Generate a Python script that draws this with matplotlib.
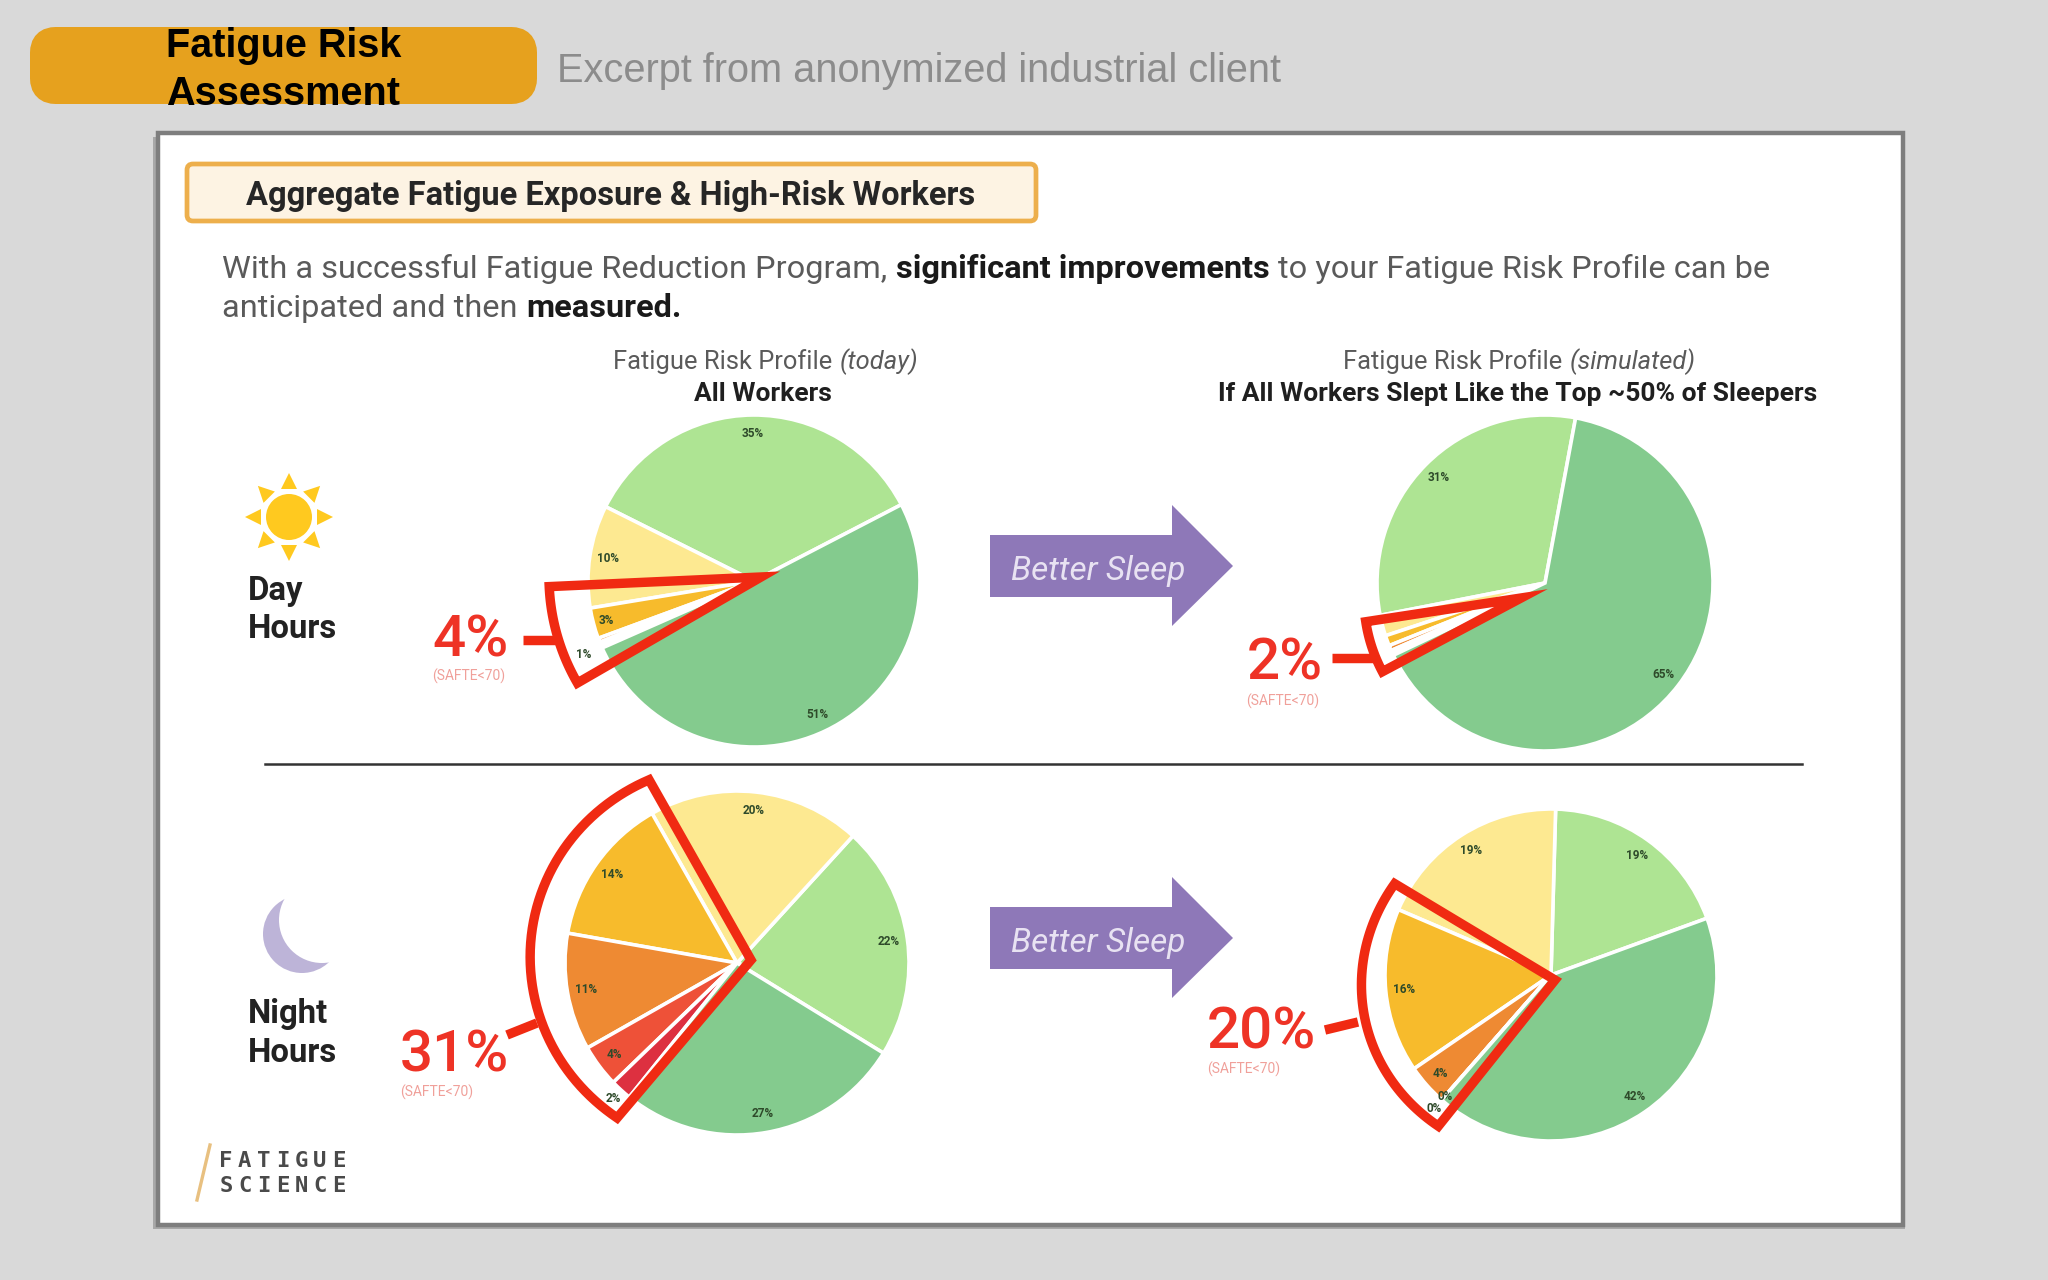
import numpy as np
import matplotlib
matplotlib.use('Agg')
import matplotlib.pyplot as plt
from matplotlib.patches import Rectangle, FancyBboxPatch, Polygon, Circle

plt.rcParams['font.family'] = ['Roboto', 'DejaVu Sans']

W, H = 2048, 1280

# slices run counter clockwise from the start angle
slice_colors = ['#AEE493', '#FDE991', '#F7BB2C', '#EE8A33', '#EE5138', '#DD3040', '#84CB8E']

day_today = [35, 10, 3, 0.4, 0.3, 0.3, 51]
day_today_labels = ['35%', '10%', '3%', '', '', '1%', '51%']
day_sim = [31, 2, 1, 0.5, 0.3, 0.2, 65]
day_sim_labels = ['31%', '', '', '', '', '', '65%']
night_today = [22, 20, 14, 11, 4, 2, 27]
night_today_labels = ['22%', '20%', '14%', '11%', '4%', '2%', '27%']
night_sim = [19, 19, 16, 4, 0, 0, 42]
night_sim_labels = ['19%', '19%', '16%', '4%', '0%', '0%', '42%']

risk_totals = ['4%', '2%', '31%', '20%']
risk_note = '(SAFTE<70)'

fig = plt.figure(figsize=(W / 100, H / 100), dpi=100, facecolor='#D9D9D9')


def page_axes(zorder):
    ax = fig.add_axes([0, 0, 1, 1], zorder=zorder)
    ax.set_xlim(0, W)
    ax.set_ylim(H, 0)
    ax.axis('off')
    return ax


bg = page_axes(0)
fg = page_axes(5)


def draw_pie(values, labels, cx, cy, r, start, far=()):
    pad = 1.25
    ax = fig.add_axes([(cx - r * pad) / W, 1 - (cy + r * pad) / H, 2 * r * pad / W, 2 * r * pad / H], zorder=2)
    wedges, _ = ax.pie(values, colors=slice_colors, startangle=start, counterclock=True, radius=1,
                       wedgeprops={'edgecolor': 'white', 'linewidth': 2.6})
    ax.set_xlim(-pad, pad)
    ax.set_ylim(-pad, pad)
    for i, (w, lab) in enumerate(zip(wedges, labels)):
        if not lab:
            continue
        mid = np.radians((w.theta1 + w.theta2) / 2)
        d = far[i] if i < len(far) and far[i] else 0.89
        fg.text(cx + d * r * np.cos(mid), cy - d * r * np.sin(mid), lab, fontsize=8.5, fontweight='bold',
                color='#2E4A2A', ha='center', va='center')


def highlight(cx, cy, r, a1, a2, bulge, line, total, tx, ty, nx, ny):
    # red outline round the low slices, the arc swells a little in the middle like the drawn one
    angles = np.linspace(a1, a2, 60)
    radii = r + bulge * np.sin(np.pi * (angles - a1) / (a2 - a1))
    xs = cx + radii * np.cos(np.radians(angles))
    ys = cy - radii * np.sin(np.radians(angles))
    pts = [(cx, cy)] + list(zip(xs, ys))
    fg.add_patch(Polygon(pts, closed=True, fill=False, edgecolor='#F02A12', linewidth=6.8, joinstyle='miter'))
    fg.plot(line[0], line[1], color='#F02A12', linewidth=6.8, solid_capstyle='butt')
    fg.text(tx, ty, total, fontsize=42, color='#EE3326', ha='center', va='center', fontweight='medium')
    fg.text(nx, ny, risk_note, fontsize=10, color='#F0A09A', ha='center', va='center')


def rich_line(x, y, parts, size):
    rend = fig.canvas.get_renderer()
    for s, weight, col in parts:
        t = bg.text(x, y, s, fontsize=size, fontweight=weight, color=col, ha='left', va='baseline')
        x += t.get_window_extent(rend).width + size * 0.36


def arrow(y):
    pts = [(990, y - 31), (1172, y - 31), (1172, y - 61), (1233, y), (1172, y + 60), (1172, y + 31), (990, y + 31)]
    bg.add_patch(Polygon(pts, closed=True, facecolor='#8E78B8', edgecolor='none'))
    bg.text(1098, y + 5, 'Better Sleep', fontsize=24, fontstyle='italic', color='#E8E2F2',
            ha='center', va='center')


# header
bg.add_patch(FancyBboxPatch((42, 39), 483, 53, boxstyle='round,pad=0,rounding_size=14', facecolor='#E6A11E',
                            edgecolor='#E6A11E', linewidth=24 * 0.72))
bg.text(166, 46, 'Fatigue Risk', fontsize=28.5, fontweight='bold', family='Liberation Sans', va='center', color='black')
bg.text(166, 94, 'Assessment', fontsize=28.5, fontweight='bold', family='Liberation Sans', va='center', color='black')
bg.text(557, 71, 'Excerpt from anonymized industrial client', fontsize=28.6, family='Liberation Sans',
        va='center', color='#8C8C8C')

# card
bg.add_patch(Rectangle((153, 137), 1752, 1092, facecolor='#A8A8A8', edgecolor='none'))
bg.add_patch(Rectangle((158, 133), 1745, 1092, facecolor='white', edgecolor='#7E7E7E', linewidth=3.2))

# title box
bg.add_patch(FancyBboxPatch((187, 164), 849, 57, boxstyle='round,pad=0,rounding_size=6', facecolor='#FDF3E3',
                            edgecolor='#EDAF4C', linewidth=3.4))
bg.text(611, 196, 'Aggregate Fatigue Exposure & High-Risk Workers', fontsize=23.5, fontweight='bold',
        color='#262626', ha='center', va='center')

rich_line(222, 278, [('With a successful Fatigue Reduction Program,', 'normal', '#5A5A5A'),
                     ('significant improvements', 'bold', '#1A1A1A'),
                     ('to your Fatigue Risk Profile can be', 'normal', '#5A5A5A')], 23.4)
rich_line(222, 317, [('anticipated and then', 'normal', '#5A5A5A'), ('measured.', 'bold', '#1A1A1A')], 23.4)

for x_split, word in [(836, '(today)'), (1566, '(simulated)')]:
    bg.text(x_split - 4, 362, 'Fatigue Risk Profile', fontsize=18.4, color='#5A5A5A', ha='right', va='center')
    bg.text(x_split + 4, 362, word, fontsize=18.4, fontstyle='italic', color='#5A5A5A', ha='left', va='center')
bg.text(763, 394, 'All Workers', fontsize=19, fontweight='bold', color='#1F1F1F', ha='center', va='center')
bg.text(1518, 394, 'If All Workers Slept Like the Top ~50% of Sleepers', fontsize=19, fontweight='bold',
        color='#1F1F1F', ha='center', va='center')

# sun
bg.add_patch(Circle((289, 517), 23, facecolor='#FFC91F', edgecolor='none'))
for a in np.arange(0, 360, 45):
    rad = np.radians(a)
    ux, uy = np.cos(rad), np.sin(rad)
    ray = [(289 + 28 * ux - 8 * uy, 517 + 28 * uy + 8 * ux), (289 + 28 * ux + 8 * uy, 517 + 28 * uy - 8 * ux),
           (289 + 44 * ux, 517 + 44 * uy)]
    bg.add_patch(Polygon(ray, closed=True, facecolor='#FFC91F', edgecolor='none'))

# moon
bg.add_patch(Circle((302, 934), 39, facecolor='#BDB4D8', edgecolor='none'))
bg.add_patch(Circle((322, 920), 43, facecolor='white', edgecolor='none'))

for y, s in [(591, 'Day'), (629, 'Hours'), (1014, 'Night'), (1053, 'Hours')]:
    bg.text(248, y, s, fontsize=23.7, fontweight='bold', color='#222222', ha='left', va='center')

arrow(566)
arrow(938)

# divider
bg.plot([265, 1802], [764, 764], color='#333333', linewidth=1.8)

# logo
bg.plot([210, 197], [1145, 1200], color='#E8C080', linewidth=2.4)
for word, y in [('FATIGUE', 1161), ('SCIENCE', 1186)]:
    for i, ch in enumerate(word):
        bg.text(226 + i * 18.8, y, ch, fontsize=16, fontweight='bold', family='DejaVu Sans Mono', color='#4A4A4A',
                ha='center', va='center')

draw_pie(day_today, day_today_labels, 754, 581, 166, 27.4, far=(0, 0, 0.92, 0, 0, 1.12, 0))
draw_pie(day_sim, day_sim_labels, 1545, 583, 168, 79.5)
draw_pie(night_today, night_today_labels, 737, 963, 172, -31.6, far=(0, 0, 0, 0, 0, 1.07, 0))
draw_pie(night_sim, night_sim_labels, 1551, 975, 166, 20, far=(0, 0, 0, 0, 1.07, 0.97, 0))

highlight(761, 577, 212, 182.6, 210, 0, ([523, 557], [640, 640]), risk_totals[0], 470, 641, 469, 676)
highlight(1521, 598, 157, 188.7, 208, 0, ([1332, 1375], [658, 658]), risk_totals[1], 1285, 664, 1283, 701)
highlight(751, 960, 207, 119.5, 229.7, 14, ([507, 537], [1035, 1023]), risk_totals[2], 454, 1056, 437, 1092)
highlight(1555, 980, 187, 149, 231.4, 7, ([1325, 1358], [1030, 1022]), risk_totals[3], 1261, 1033, 1244, 1069)

fig.savefig('out.png', dpi=100, facecolor=fig.get_facecolor())
